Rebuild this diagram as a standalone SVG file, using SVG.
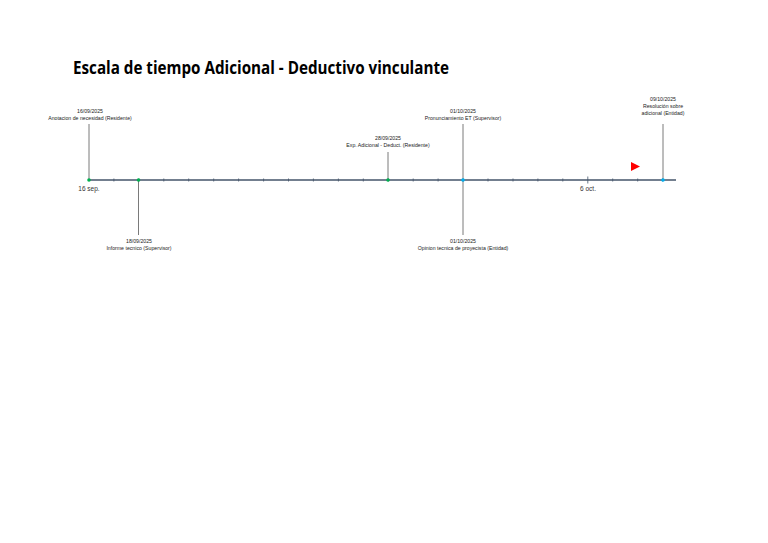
<svg xmlns="http://www.w3.org/2000/svg" width="768" height="543" viewBox="0 0 768 543">
<style>
.title{font-family:"Liberation Sans Narrow","Open Sans","Liberation Sans",sans-serif;font-weight:bold;font-size:18px;fill:#000}
.lbl{font-family:"Liberation Sans","Open Sans",sans-serif;font-size:5.2px;fill:#222;text-anchor:middle}
.ax{font-family:"Liberation Sans","Open Sans",sans-serif;font-size:6.5px;fill:#333;text-anchor:middle}
.stem{stroke:#7a7a7a;stroke-width:1}
.tick{stroke:#44546A;stroke-width:0.8}
.g{fill:#00B050}
.b{fill:#00B0F0}
</style>
<rect width="768" height="543" fill="#fff"/>
<text class="title" x="73" y="74" textLength="376" lengthAdjust="spacingAndGlyphs">Escala de tiempo Adicional - Deductivo vinculante</text>
<g id="connectors">
<line class="stem" x1="89" y1="124" x2="89" y2="180"/>
<line class="stem" x1="138.5" y1="180" x2="138.5" y2="235" stroke="#a6a6a6" stroke-width="1.2"/>
<line class="stem" x1="388" y1="152" x2="388" y2="180"/>
<line class="stem" x1="463" y1="124" x2="463" y2="180"/>
<line class="stem" x1="463" y1="180" x2="463" y2="235"/>
<line class="stem" x1="663" y1="124" x2="663" y2="180"/>
</g>
<g id="axis">
<line x1="88" y1="180" x2="676" y2="180" stroke="#44546A" stroke-width="1.3"/>
<path class="tick" d="M113.9 178.5v3M138.9 178.5v3M163.8 178.5v3M188.7 178.5v3M213.7 178.5v3M238.6 178.5v3M263.6 178.5v3M288.5 178.5v3M313.4 178.5v3M338.4 178.5v3M363.3 178.5v3M388.3 178.5v3M413.2 178.5v3M438.1 178.5v3M463.1 178.5v3M488 178.5v3M513 178.5v3M537.9 178.5v3M562.8 178.5v3M612.7 178.5v3M637.7 178.5v3M662.6 178.5v3"/>
<path class="tick" d="M587.8 176.5v7" stroke-width="1"/>
<text class="ax" x="89" y="191">16 sep.</text>
<text class="ax" x="588" y="191">6 oct.</text>
</g>
<g id="flag">
<polygon points="631,162 640,166.5 631,171" fill="#FF0000"/>
</g>
<g id="n1">
<circle class="g" cx="89" cy="180" r="1.8"/>
<text class="lbl" x="90" y="113">16/09/2025</text>
<text class="lbl" x="90" y="120">Anotacion de necesidad (Residente)</text>
</g>
<g id="n2">
<circle class="g" cx="138.5" cy="180" r="1.8"/>
<text class="lbl" x="139" y="243">18/09/2025</text>
<text class="lbl" x="139" y="250">Informe tecnico (Supervisor)</text>
</g>
<g id="n3">
<circle class="g" cx="388" cy="180" r="1.8"/>
<text class="lbl" x="388" y="140">28/09/2025</text>
<text class="lbl" x="388" y="147">Exp. Adicional - Deduct. (Residente)</text>
</g>
<g id="n4">
<circle class="b" cx="463" cy="180" r="1.8"/>
<text class="lbl" x="463" y="113">01/10/2025</text>
<text class="lbl" x="463" y="120">Pronunciamiento ET (Supervisor)</text>
</g>
<g id="n5">
<text class="lbl" x="463" y="243">01/10/2025</text>
<text class="lbl" x="463" y="250">Opinion tecnica de proyecista (Entidad)</text>
</g>
<g id="n6">
<circle class="b" cx="663" cy="180" r="1.8"/>
<text class="lbl" x="663" y="101">09/10/2025</text>
<text class="lbl" x="663" y="108">Resolución sobre</text>
<text class="lbl" x="663" y="115">adicional (Entidad)</text>
</g>
</svg>
